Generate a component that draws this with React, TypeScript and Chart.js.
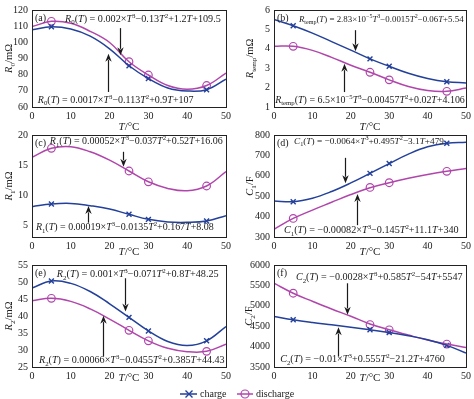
import React, { useEffect, useRef } from "react";
import { Chart, registerables } from "chart.js";

Chart.register(...registerables);

// ---------- data ----------
const temps = [0, 5, 10, 15, 20, 25, 30, 35, 40, 45, 50];
const markerTemps = [5, 25, 30, 45];
const xTicks = [0, 10, 20, 30, 40, 50];

const r0Charge = [107.8, 109.6, 108.2, 103.8, 96.0, 85.5, 77.6, 71.8, 69.9, 70.7, 77.2];
const r0Discharge = [109.7, 113.0, 111.8, 106.8, 99.9, 88.0, 79.8, 73.3, 71.0, 73.3, 81.0];
const r0ChargeMarks = [109.6, 85.5, 77.6, 70.7];
const r0DischargeMarks = [113.0, 88.0, 79.8, 73.3];
const r0Ticks = [60, 70, 80, 90, 100, 110, 120];

const rtCharge = [5.51, 5.19, 4.81, 4.37, 3.93, 3.48, 3.1, 2.74, 2.47, 2.3, 2.24];
const rtDischarge = [4.13, 4.13, 3.92, 3.56, 3.15, 2.79, 2.4, 2.06, 1.85, 1.81, 1.98];
const rtChargeMarks = [5.19, 3.48, 3.1, 2.3];
const rtDischargeMarks = [4.13, 2.79, 2.4, 1.81];
const rtTicks = [1, 2, 3, 4, 5, 6];

const r1Charge = [8.06, 8.5, 8.6, 8.22, 7.67, 6.78, 5.94, 5.5, 5.44, 5.67, 6.56];
const r1Discharge = [16.28, 17.78, 18.06, 17.2, 15.8, 14.0, 12.2, 11.1, 10.7, 11.5, 13.9];
const r1ChargeMarks = [8.5, 6.78, 5.94, 5.67];
const r1DischargeMarks = [17.78, 14.0, 12.2, 11.5];
const r1Ticks = [5, 10, 15, 20];

const c1Charge = [477, 473, 490, 523, 565, 612, 660, 706, 742, 760, 765];
const c1Discharge = [338, 391, 432, 470, 508, 541, 566, 588, 606, 622, 636];
const c1ChargeMarks = [473, 612, 660, 760];
const c1DischargeMarks = [391, 543, 566, 622];
const c1Ticks = [300, 400, 500, 600, 700, 800];

const r2Charge = [48.2, 50.3, 49.6, 47.2, 43.6, 39.6, 35.6, 32.5, 31.3, 32.7, 36.9];
const r2Discharge = [44.5, 45.2, 44.3, 42.1, 39.1, 35.8, 32.7, 30.5, 29.5, 29.6, 31.7];
const r2ChargeMarks = [50.3, 39.6, 35.6, 32.7];
const r2DischargeMarks = [45.2, 35.8, 32.7, 29.6];
const r2Ticks = [25, 30, 35, 40, 45, 50, 55];

const c2Charge = [4738, 4656, 4590, 4533, 4476, 4412, 4347, 4265, 4168, 4030, 3843];
const c2Discharge = [5552, 5308, 5110, 4920, 4745, 4555, 4412, 4282, 4160, 4062, 3980];
const c2ChargeMarks = [4656, 4412, 4347, 4030];
const c2DischargeMarks = [5308, 4540, 4412, 4062];
const c2Ticks = [3500, 4000, 4500, 5000, 5500, 6000];

const seriesNames = ["charge", "discharge"];

// ---------- styles ----------
const W = 474;
const H = 399;
const BLUE = "#23409a";
const PURPLE = "#b046ab";
const INK = "#1a1a1a";
const FONT = '"Liberation Serif", "Times New Roman", serif';

type Part = { t: string; it: boolean; m: number };
function parse(s: string): Part[] {
  const out: Part[] = [];
  let it = false;
  let buf = "";
  const flush = () => {
    if (buf) {
      out.push({ t: buf, it, m: 0 });
      buf = "";
    }
  };
  for (let i = 0; i < s.length; i++) {
    const c = s[i];
    if (c === "*") {
      flush();
      it = !it;
    } else if ((c === "_" || c === "^") && s[i + 1] === "{") {
      flush();
      const j = s.indexOf("}", i);
      out.push({ t: s.slice(i + 2, j), it: false, m: c === "_" ? 1 : 2 });
      i = j;
    } else buf += c;
  }
  flush();
  return out;
}
function fontFor(p: Part, size: number) {
  const sz = p.m ? size * 0.68 : size;
  return `${p.it ? "italic " : ""}${sz}px ${FONT}`;
}
function richWidth(ctx: CanvasRenderingContext2D, parts: Part[], size: number) {
  let w = 0;
  for (const p of parts) {
    ctx.font = fontFor(p, size);
    w += ctx.measureText(p.t).width;
  }
  return w;
}
function drawRich(
  ctx: CanvasRenderingContext2D,
  parts: Part[],
  x: number,
  y: number,
  size: number,
  align: string
) {
  const w = richWidth(ctx, parts, size);
  let cx = align === "center" ? x - w / 2 : x;
  const base = y + size * 0.33;
  ctx.textAlign = "left";
  ctx.textBaseline = "alphabetic";
  for (const p of parts) {
    ctx.font = fontFor(p, size);
    const dy = p.m === 1 ? size * 0.25 : p.m === 2 ? -size * 0.4 : 0;
    ctx.fillText(p.t, cx, base + dy);
    cx += ctx.measureText(p.t).width;
  }
}

type Note = { text: string; x: number; y: number; w: number };
type Arrow = { x: number; from: number; to: number };
type Panel = {
  label: string;
  yTitle: string;
  yTicks: number[];
  charge: number[];
  discharge: number[];
  chargeMarks: number[];
  dischargeMarks: number[];
  box: { l: number; t: number; r: number; b: number };
  yTitleX: number;
  xTitleY: number;
  notes: Note[];
  arrows: Arrow[];
  legend?: boolean;
};

const LEFT = { l: 32, r: 226 };
const RIGHT = { l: 274, r: 467 };
const ROW1 = { t: 6, b: 107 };
const ROW2 = { t: 135, b: 237 };
const ROW3 = { t: 265, b: 367 };

const panels: Panel[] = [
  {
    label: "(a)",
    yTitle: "*R*_{0}/mΩ",
    yTicks: r0Ticks,
    charge: r0Charge,
    discharge: r0Discharge,
    chargeMarks: r0ChargeMarks,
    dischargeMarks: r0DischargeMarks,
    box: { ...LEFT, ...ROW1 },
    yTitleX: 9,
    xTitleY: 126,
    notes: [
      { text: "*R*_{0}(*T*) = 0.002×*T*^{3}−0.13*T*^{2}+1.2*T*+109.5", x: 8.5, y: 114.7, w: 156 },
      { text: "*R*_{0}(*T*) = 0.0017×*T*^{3}−0.113*T*^{2}+0.9*T*+107", x: 1.5, y: 64.8, w: 156 },
    ],
    arrows: [
      { x: 22.8, from: 108.8, to: 92 },
      { x: 19.7, from: 69.3, to: 93 },
    ],
  },
  {
    label: "(b)",
    yTitle: "*R*_{temp}/mΩ",
    yTicks: rtTicks,
    charge: rtCharge,
    discharge: rtDischarge,
    chargeMarks: rtChargeMarks,
    dischargeMarks: rtDischargeMarks,
    box: { ...RIGHT, ...ROW1 },
    yTitleX: 250,
    xTitleY: 126,
    notes: [
      { text: "*R*_{temp}(*T*) = 2.83×10^{−5}*T*^{3}−0.0015*T*^{2}−0.06*T*+5.54", x: 6.5, y: 5.55, w: 165 },
      { text: "*R*_{temp}(*T*) = 6.5×10^{−5}*T*^{3}−0.00457*T*^{2}+0.02*T*+4.106", x: 0.3, y: 1.4, w: 190 },
    ],
    arrows: [
      { x: 21.2, from: 4.96, to: 3.88 },
      { x: 18.3, from: 1.77, to: 3.23 },
    ],
  },
  {
    label: "(c)",
    yTitle: "*R*_{1}/mΩ",
    yTicks: r1Ticks,
    charge: r1Charge,
    discharge: r1Discharge,
    chargeMarks: r1ChargeMarks,
    dischargeMarks: r1DischargeMarks,
    box: { ...LEFT, ...ROW2 },
    yTitleX: 9,
    xTitleY: 251,
    notes: [
      { text: "*R*_{1}(*T*) = 0.00052×*T*^{3}−0.037*T*^{2}+0.52*T*+16.06", x: 4.6, y: 19.0, w: 173 },
      { text: "*R*_{1}(*T*) = 0.00019×*T*^{3}−0.0135*T*^{2}+0.167*T*+8.08", x: 1.0, y: 4.67, w: 178 },
    ],
    arrows: [
      { x: 23.4, from: 17.2, to: 14.7 },
      { x: 14.5, from: 5.39, to: 8.17 },
    ],
  },
  {
    label: "(d)",
    yTitle: "*C*_{1}/F",
    yTicks: c1Ticks,
    charge: c1Charge,
    discharge: c1Discharge,
    chargeMarks: c1ChargeMarks,
    dischargeMarks: c1DischargeMarks,
    box: { ...RIGHT, ...ROW2 },
    yTitleX: 250,
    xTitleY: 251,
    notes: [
      { text: "*C*_{1}(*T*) = −0.0064×*T*^{3}+0.495*T*^{2}−3.1*T*+479", x: 5.2, y: 770.6, w: 150 },
      { text: "*C*_{1}(*T*) = −0.00082×*T*^{3}−0.145*T*^{2}+11.1*T*+340", x: 2.6, y: 334, w: 175 },
    ],
    arrows: [
      { x: 18.4, from: 688, to: 564 },
      { x: 21.7, from: 358, to: 511 },
    ],
  },
  {
    label: "(e)",
    yTitle: "*R*_{2}/mΩ",
    yTicks: r2Ticks,
    charge: r2Charge,
    discharge: r2Discharge,
    chargeMarks: r2ChargeMarks,
    dischargeMarks: r2DischargeMarks,
    box: { ...LEFT, ...ROW3 },
    yTitleX: 9,
    xTitleY: 377,
    notes: [
      { text: "*R*_{2}(*T*) = 0.001×*T*^{3}−0.071*T*^{2}+0.8*T*+48.25", x: 6.4, y: 52.4, w: 162 },
      { text: "*R*_{2}(*T*) = 0.00066×*T*^{3}−0.0455*T*^{2}+0.385*T*+44.43", x: 1.8, y: 27.1, w: 186 },
    ],
    arrows: [
      { x: 24, from: 51.1, to: 41.3 },
      { x: 18.2, from: 28.1, to: 40.1 },
    ],
  },
  {
    label: "(f)",
    yTitle: "*C*_{2}/F",
    yTicks: c2Ticks,
    charge: c2Charge,
    discharge: c2Discharge,
    chargeMarks: c2ChargeMarks,
    dischargeMarks: c2DischargeMarks,
    box: { ...RIGHT, ...ROW3 },
    yTitleX: 249,
    xTitleY: 377,
    notes: [
      { text: "*C*_{2}(*T*) = −0.0028×*T*^{3}+0.585*T*^{2}−54*T*+5547", x: 5.7, y: 5706, w: 167 },
      { text: "*C*_{2}(*T*) = −0.01×*T*^{3}+0.555*T*^{2}−21.2*T*+4760", x: 1.6, y: 3696, w: 165 },
    ],
    arrows: [
      { x: 19.1, from: 5552, to: 4778 },
      { x: 16.7, from: 3760, to: 4477 },
    ],
    legend: true,
  },
];

function drawArrow(ctx: CanvasRenderingContext2D, x: number, y1: number, y2: number) {
  const dir = y2 > y1 ? 1 : -1;
  const headLen = 8;
  const headW = 3.2;
  ctx.strokeStyle = INK;
  ctx.fillStyle = INK;
  ctx.lineWidth = 1.2;
  ctx.beginPath();
  ctx.moveTo(x, y1);
  ctx.lineTo(x, y2 - dir * headLen * 0.8);
  ctx.stroke();
  ctx.beginPath();
  ctx.moveTo(x, y2);
  ctx.lineTo(x - headW, y2 - dir * headLen);
  ctx.lineTo(x, y2 - dir * headLen * 0.7);
  ctx.lineTo(x + headW, y2 - dir * headLen);
  ctx.closePath();
  ctx.fill();
}

function drawLegend(ctx: CanvasRenderingContext2D) {
  const y = 394;
  ctx.save();
  ctx.lineWidth = 1.5;
  // charge
  ctx.strokeStyle = BLUE;
  ctx.beginPath();
  ctx.moveTo(180, y);
  ctx.lineTo(197, y);
  ctx.stroke();
  ctx.lineWidth = 1.4;
  ctx.beginPath();
  ctx.moveTo(185.5, y - 3.5);
  ctx.lineTo(192.5, y + 3.5);
  ctx.moveTo(192.5, y - 3.5);
  ctx.lineTo(185.5, y + 3.5);
  ctx.stroke();
  // discharge
  ctx.strokeStyle = PURPLE;
  ctx.lineWidth = 1.5;
  ctx.beginPath();
  ctx.moveTo(237, y);
  ctx.lineTo(253, y);
  ctx.stroke();
  ctx.lineWidth = 1.2;
  ctx.beginPath();
  ctx.arc(245, y, 4, 0, Math.PI * 2);
  ctx.stroke();
  ctx.fillStyle = INK;
  ctx.font = `10px ${FONT}`;
  ctx.textAlign = "left";
  ctx.textBaseline = "middle";
  ctx.fillText(seriesNames[0], 200, y);
  ctx.fillText(seriesNames[1], 256, y);
  ctx.restore();
}

const decorPlugin = {
  id: "decor",
  afterDraw(chart: any) {
    const p: Panel = chart.options.plugins.decor.panel;
    const ctx: CanvasRenderingContext2D = chart.ctx;
    const xs = chart.scales.x;
    const ys = chart.scales.y;
    const a = chart.chartArea;
    ctx.save();
    // frame
    ctx.strokeStyle = "#222";
    ctx.lineWidth = 1;
    ctx.strokeRect(Math.round(a.left) + 0.5, Math.round(a.top) + 0.5, Math.round(a.right - a.left), Math.round(a.bottom - a.top));
    ctx.fillStyle = INK;
    // panel label
    drawRich(ctx, parse(p.label), a.left + 3, a.top + 8, 10, "left");
    // notes
    for (const n of p.notes) {
      const parts = parse(n.text);
      const mw = richWidth(ctx, parts, 10);
      const size = (10 * n.w) / mw;
      drawRich(ctx, parts, xs.getPixelForValue(n.x), ys.getPixelForValue(n.y), size, "left");
    }
    // arrows
    for (const ar of p.arrows) {
      drawArrow(ctx, Math.round(xs.getPixelForValue(ar.x)) + 0.5, ys.getPixelForValue(ar.from), ys.getPixelForValue(ar.to));
    }
    // axis titles
    ctx.fillStyle = INK;
    drawRich(ctx, parse("*T*/°C"), (a.left + a.right) / 2, p.xTitleY, 11, "center");
    ctx.save();
    ctx.translate(p.yTitleX, (a.top + a.bottom) / 2);
    ctx.rotate(-Math.PI / 2);
    drawRich(ctx, parse(p.yTitle), 0, 0, 10.5, "center");
    ctx.restore();
    if (p.legend) drawLegend(ctx);
    ctx.restore();
  },
};

function PanelChart({ panel }: { panel: Panel }) {
  const ref = useRef<HTMLCanvasElement | null>(null);
  useEffect(() => {
    if (!ref.current) return;
    const b = panel.box;
    const Y_W = 28;
    const X_H = 16;
    const toPts = (xsArr: number[], vals: number[]) => xsArr.map((x, i) => ({ x, y: vals[i] }));
    const tickFont = { family: FONT, size: 10 };
    const chart = new Chart(ref.current, {
      type: "line",
      data: {
        datasets: [
          {
            label: seriesNames[0],
            data: toPts(temps, panel.charge),
            borderColor: BLUE,
            borderWidth: 1.5,
            pointRadius: 0,
            tension: 0.4,
            fill: false,
          },
          {
            label: seriesNames[1],
            data: toPts(temps, panel.discharge),
            borderColor: PURPLE,
            borderWidth: 1.5,
            pointRadius: 0,
            tension: 0.4,
            fill: false,
          },
          {
            label: seriesNames[0] + " points",
            data: toPts(markerTemps, panel.chargeMarks),
            showLine: false,
            pointStyle: "crossRot",
            pointRadius: 3.5,
            pointBorderWidth: 1.4,
            borderColor: BLUE,
            pointBorderColor: BLUE,
            backgroundColor: "transparent",
          },
          {
            label: seriesNames[1] + " points",
            data: toPts(markerTemps, panel.dischargeMarks),
            showLine: false,
            pointStyle: "circle",
            pointRadius: 3.8,
            pointBorderWidth: 1.2,
            borderColor: PURPLE,
            pointBorderColor: PURPLE,
            pointBackgroundColor: "transparent",
            backgroundColor: "transparent",
          },
        ],
      },
      options: {
        responsive: false,
        animation: false,
        events: [],
        layout: {
          padding: { left: b.l - Y_W, right: W - b.r, top: b.t, bottom: H - b.b - X_H },
        },
        plugins: {
          legend: { display: false },
          tooltip: { enabled: false },
          decor: { panel },
        } as any,
        scales: {
          x: {
            type: "linear",
            min: 0,
            max: 50,
            grid: { display: false, drawTicks: false },
            border: { display: false },
            ticks: {
              font: tickFont,
              color: INK,
              padding: 3,
              maxRotation: 0,
              autoSkip: false,
              callback: (v: any) => String(v),
            },
            afterBuildTicks: (s: any) => {
              s.ticks = xTicks.map((v) => ({ value: v }));
            },
            afterFit: (s: any) => {
              s.height = X_H;
            },
          },
          y: {
            type: "linear",
            min: panel.yTicks[0] === 5 ? 3 : panel.yTicks[0],
            max: panel.yTicks[panel.yTicks.length - 1],
            grid: { display: false, drawTicks: false },
            border: { display: false },
            ticks: {
              font: tickFont,
              color: INK,
              padding: 4,
              autoSkip: false,
              callback: (v: any) => String(v),
            },
            afterBuildTicks: (s: any) => {
              s.ticks = panel.yTicks.map((v) => ({ value: v }));
            },
            afterFit: (s: any) => {
              s.width = Y_W;
            },
          },
        },
      } as any,
      plugins: [decorPlugin],
    });
    return () => chart.destroy();
  }, [panel]);
  return (
    <canvas
      ref={ref}
      width={W}
      height={H}
      style={{ position: "absolute", left: 0, top: 0, width: W, height: H }}
    />
  );
}

export default function App() {
  return (
    <div style={{ position: "absolute", left: 0, top: 0, width: W, height: H, background: "#fff" }}>
      {panels.map((p) => (
        <PanelChart key={p.label} panel={p} />
      ))}
    </div>
  );
}
